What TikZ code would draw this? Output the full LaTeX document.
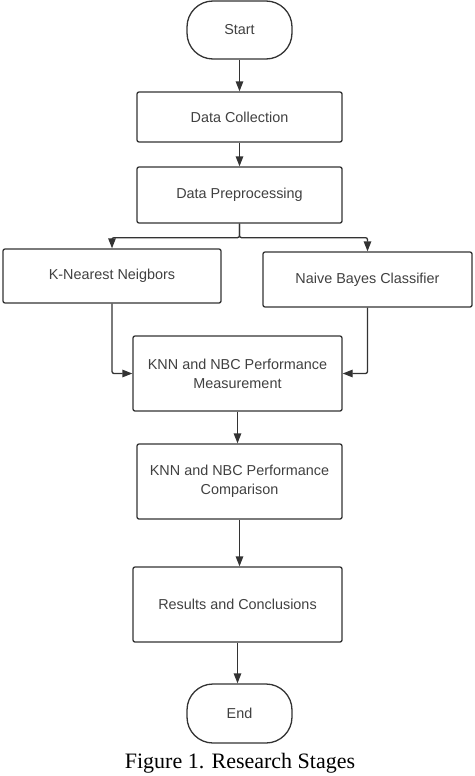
\documentclass[tikz,border=0pt]{standalone}
\usepackage{fontspec}
\setmainfont{Liberation Sans}
\newfontfamily\capfont{Liberation Serif}
\usetikzlibrary{arrows.meta}
\definecolor{ink}{gray}{0.2}
\definecolor{txt}{gray}{0.25}
\tikzset{
  box/.style={draw=ink, line width=1.3pt, rounded corners=2pt, align=center,
    inner sep=0pt, text=txt, font=\fontsize{14.4}{19.3}\selectfont},
  term/.style={box, rounded corners=26pt},
  arr/.style={draw=ink, line width=1.3pt, -{Triangle[length=10pt,width=7.5pt]}},
}
\begin{document}
\begin{tikzpicture}[x=1pt,y=-1pt]
\useasboundingbox (0,0) rectangle (474,776);
\node[term, minimum width=105pt, minimum height=58pt] (start) at (239.5,30) {Start};
\node[box, minimum width=205pt, minimum height=50pt] (dc) at (239.5,117) {Data Collection};
\node[box, minimum width=205pt, minimum height=56pt] (dp) at (239.5,195) {Data Preprocessing};
\node[box, minimum width=218pt, minimum height=54pt] (knn) at (112,276) {K-Nearest Neigbors};
\node[box, minimum width=209pt, minimum height=55pt] (nbc) at (367.5,279.5) {Naive Bayes Classifier};
\node[box, minimum width=209pt, minimum height=75pt] (meas) at (237.5,373.5) {KNN and NBC Performance\\Measurement};
\node[box, minimum width=205pt, minimum height=75pt] (comp) at (239.5,481.5) {KNN and NBC Performance\\Comparison};
\node[box, minimum width=209pt, minimum height=75pt] (res) at (237.5,604.5) {Results and Conclusions};
\node[term, minimum width=105pt, minimum height=59pt] (end) at (239.5,713.5) {End};
\node[font=\capfont\fontsize{22}{26}\selectfont, text=black] (cap) at (240,763) {Figure 1. Research Stages};

\draw[arr] (start.south) -- (start.south |- dc.north);
\draw[arr] (dc.south) -- (dc.south |- dp.north);
\draw[arr, rounded corners=2pt] (dp.south) -- ++(0,14) -| (knn.north);
\draw[arr, rounded corners=2pt] (dp.south) -- ++(0,14) -| (nbc.north);
\draw[arr, rounded corners=2pt] (knn.south) |- (meas.west);
\draw[arr, rounded corners=2pt] (nbc.south) |- (meas.east);
\draw[arr] (meas.south) -- (meas.south |- comp.north);
\draw[arr] (comp.south) -- (comp.south |- res.north);
\draw[arr] (res.south) -- (res.south |- end.north);
\end{tikzpicture}
\end{document}
